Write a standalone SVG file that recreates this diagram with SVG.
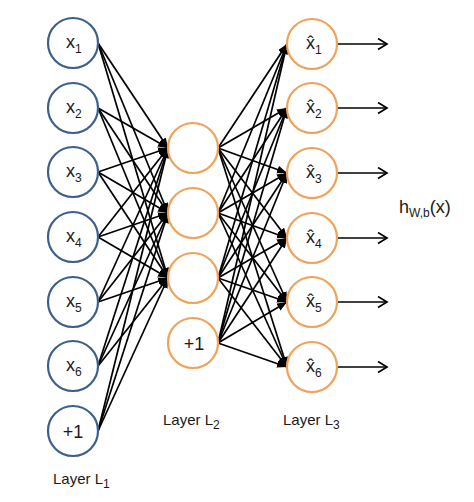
<svg xmlns="http://www.w3.org/2000/svg" width="474" height="502" viewBox="0 0 474 502">
<defs>
<style>
.in{fill:#fff;stroke:#3d5f8c;stroke-width:2.2}
.hid{fill:#fff;stroke:#f0a259;stroke-width:2.2}
.t{font-family:"Liberation Sans",Arial,sans-serif;fill:#1a1a1a}
.lbl{font-size:18px}
.sub{font-size:12px}
.lay{font-size:15px}
.c line{stroke:#000;stroke-width:1.7}
.e{marker-end:url(#ah)}
.o{marker-end:url(#oa)}
</style>
<marker id="ah" markerUnits="userSpaceOnUse" markerWidth="12" markerHeight="10" refX="10" refY="4" orient="auto">
<path d="M0,0 L10,4 L0,8 Z" fill="#000"/>
</marker>
<marker id="oa" markerUnits="userSpaceOnUse" markerWidth="14" markerHeight="14" refX="11" refY="6" orient="auto">
<path d="M2,0.5 L11,6 L2,11.5" fill="none" stroke="#000" stroke-width="1.7"/>
</marker>
</defs>
<rect width="474" height="502" fill="#fff"/>
<g id="connectors" class="c">
<line class="e" x1="98" y1="43" x2="168" y2="148"/>
<line class="e" x1="98" y1="43" x2="168" y2="213"/>
<line class="e" x1="98" y1="43" x2="168" y2="278"/>
<line class="e" x1="98" y1="108" x2="168" y2="148"/>
<line class="e" x1="98" y1="108" x2="168" y2="213"/>
<line class="e" x1="98" y1="108" x2="168" y2="278"/>
<line class="e" x1="98" y1="172" x2="168" y2="148"/>
<line class="e" x1="98" y1="172" x2="168" y2="213"/>
<line class="e" x1="98" y1="172" x2="168" y2="278"/>
<line class="e" x1="98" y1="237" x2="168" y2="148"/>
<line class="e" x1="98" y1="237" x2="168" y2="213"/>
<line class="e" x1="98" y1="237" x2="168" y2="278"/>
<line class="e" x1="98" y1="302" x2="168" y2="148"/>
<line class="e" x1="98" y1="302" x2="168" y2="213"/>
<line class="e" x1="98" y1="302" x2="168" y2="278"/>
<line class="e" x1="98" y1="366" x2="168" y2="148"/>
<line class="e" x1="98" y1="366" x2="168" y2="213"/>
<line class="e" x1="98" y1="366" x2="168" y2="278"/>
<line class="e" x1="98" y1="431" x2="168" y2="148"/>
<line class="e" x1="98" y1="431" x2="168" y2="213"/>
<line class="e" x1="98" y1="431" x2="168" y2="278"/>
<line class="e" x1="218" y1="148" x2="287" y2="44"/>
<line class="e" x1="218" y1="148" x2="287" y2="108"/>
<line class="e" x1="218" y1="148" x2="287" y2="173"/>
<line class="e" x1="218" y1="148" x2="287" y2="238"/>
<line class="e" x1="218" y1="148" x2="287" y2="302"/>
<line class="e" x1="218" y1="148" x2="287" y2="367"/>
<line class="e" x1="218" y1="213" x2="287" y2="44"/>
<line class="e" x1="218" y1="213" x2="287" y2="108"/>
<line class="e" x1="218" y1="213" x2="287" y2="173"/>
<line class="e" x1="218" y1="213" x2="287" y2="238"/>
<line class="e" x1="218" y1="213" x2="287" y2="302"/>
<line class="e" x1="218" y1="213" x2="287" y2="367"/>
<line class="e" x1="218" y1="278" x2="287" y2="44"/>
<line class="e" x1="218" y1="278" x2="287" y2="108"/>
<line class="e" x1="218" y1="278" x2="287" y2="173"/>
<line class="e" x1="218" y1="278" x2="287" y2="238"/>
<line class="e" x1="218" y1="278" x2="287" y2="302"/>
<line class="e" x1="218" y1="278" x2="287" y2="367"/>
<line class="e" x1="218" y1="343" x2="287" y2="44"/>
<line class="e" x1="218" y1="343" x2="287" y2="108"/>
<line class="e" x1="218" y1="343" x2="287" y2="173"/>
<line class="e" x1="218" y1="343" x2="287" y2="238"/>
<line class="e" x1="218" y1="343" x2="287" y2="302"/>
<line class="e" x1="218" y1="343" x2="287" y2="367"/>
<line class="o" x1="337" y1="44" x2="387" y2="44"/>
<line class="o" x1="337" y1="108" x2="387" y2="108"/>
<line class="o" x1="337" y1="173" x2="387" y2="173"/>
<line class="o" x1="337" y1="238" x2="387" y2="238"/>
<line class="o" x1="337" y1="302" x2="387" y2="302"/>
<line class="o" x1="337" y1="367" x2="387" y2="367"/>
</g>
<g id="x1"><circle class="in" cx="73" cy="43" r="25"/><text class="t lbl" x="66" y="48">x<tspan class="sub" dy="5">1</tspan></text></g>
<g id="x2"><circle class="in" cx="73" cy="108" r="25"/><text class="t lbl" x="66" y="113">x<tspan class="sub" dy="5">2</tspan></text></g>
<g id="x3"><circle class="in" cx="73" cy="172" r="25"/><text class="t lbl" x="66" y="177">x<tspan class="sub" dy="5">3</tspan></text></g>
<g id="x4"><circle class="in" cx="73" cy="237" r="25"/><text class="t lbl" x="66" y="242">x<tspan class="sub" dy="5">4</tspan></text></g>
<g id="x5"><circle class="in" cx="73" cy="302" r="25"/><text class="t lbl" x="66" y="307">x<tspan class="sub" dy="5">5</tspan></text></g>
<g id="x6"><circle class="in" cx="73" cy="366" r="25"/><text class="t lbl" x="66" y="371">x<tspan class="sub" dy="5">6</tspan></text></g>
<g id="b1"><circle class="in" cx="73" cy="431" r="25"/><text class="t lbl" x="73" y="438" text-anchor="middle">+1</text></g>
<g id="h1"><circle class="hid" cx="193" cy="148" r="25"/></g>
<g id="h2"><circle class="hid" cx="193" cy="213" r="25"/></g>
<g id="h3"><circle class="hid" cx="193" cy="278" r="25"/></g>
<g id="b2"><circle class="hid" cx="193" cy="343" r="25"/><text class="t lbl" x="194" y="350" text-anchor="middle">+1</text></g>
<g id="y1"><circle class="hid" cx="312" cy="44" r="25"/><text class="t lbl" x="306" y="49">x̂<tspan class="sub" dy="5">1</tspan></text></g>
<g id="y2"><circle class="hid" cx="312" cy="108" r="25"/><text class="t lbl" x="306" y="113">x̂<tspan class="sub" dy="5">2</tspan></text></g>
<g id="y3"><circle class="hid" cx="312" cy="173" r="25"/><text class="t lbl" x="306" y="178">x̂<tspan class="sub" dy="5">3</tspan></text></g>
<g id="y4"><circle class="hid" cx="312" cy="238" r="25"/><text class="t lbl" x="306" y="243">x̂<tspan class="sub" dy="5">4</tspan></text></g>
<g id="y5"><circle class="hid" cx="312" cy="302" r="25"/><text class="t lbl" x="306" y="307">x̂<tspan class="sub" dy="5">5</tspan></text></g>
<g id="y6"><circle class="hid" cx="312" cy="367" r="25"/><text class="t lbl" x="306" y="372">x̂<tspan class="sub" dy="5">6</tspan></text></g>
<g id="labels">
<text class="t" x="399" y="213" font-size="18">h<tspan class="sub" font-size="12" dy="4">W,b</tspan><tspan dy="-4">(x)</tspan></text>
<text class="t lay" x="53" y="484">Layer L<tspan class="sub" font-size="11" dy="4">1</tspan></text>
<text class="t lay" x="163" y="425">Layer L<tspan class="sub" font-size="11" dy="4">2</tspan></text>
<text class="t lay" x="283" y="425">Layer L<tspan class="sub" font-size="11" dy="4">3</tspan></text>
</g>
</svg>
